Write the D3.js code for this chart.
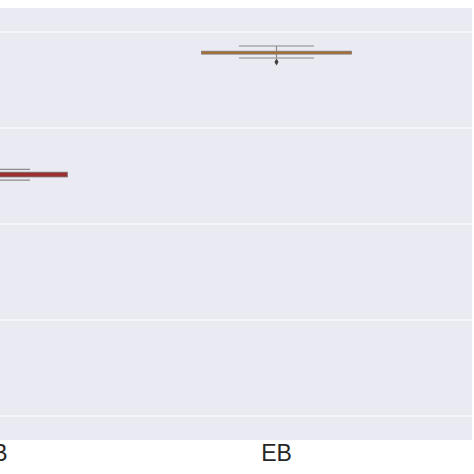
<!DOCTYPE html>
<html><head><meta charset="utf-8">
<script src="https://cdn.jsdelivr.net/npm/d3@7"></script>
<style>html,body{margin:0;padding:0;background:#fff;overflow:hidden}</style>
</head><body>
<svg id="c" width="474" height="474"></svg>
<script>
const categories = ["B", "EB"];
const whiskerLow = [2.458, 3.729];
const q1 = [2.49, 3.77];
const median = [2.51, 3.785];
const q3 = [2.54, 3.80];
const whiskerHigh = [2.57, 3.854];
const outliers = [[], [3.6875]];
const colors = ["#9b2f30", "#a86d2f"];
const yTicks = [0, 1, 2, 3, 4];

(function () {
const svg = d3.select("#c");
const pLeft = 0, pRight = 472, pTop = 8, pBottom = 440;

const x = d3.scalePoint().domain(categories).range([-7.5, 276.5]);
const y = d3.scaleLinear().domain([-0.25, 4.25]).range([pBottom, pTop]);
const boxW = 150;

svg.append("rect").attr("x", pLeft).attr("y", pTop).attr("width", pRight - pLeft).attr("height", pBottom - pTop).attr("fill", "#eaeaf2");

svg.append("g").selectAll("line").data(yTicks).join("line")
  .attr("x1", pLeft).attr("x2", pRight)
  .attr("y1", d => y(d)).attr("y2", d => y(d))
  .attr("stroke", "#fff").attr("stroke-width", 1);

const g = svg.append("g");
categories.forEach((c, i) => {
  const cx = x(c);
  const wc = "#8a8a8a";
  g.append("line").attr("x1", cx).attr("x2", cx).attr("y1", y(whiskerHigh[i])).attr("y2", y(q3[i])).attr("stroke", wc).attr("stroke-width", 1.2);
  g.append("line").attr("x1", cx).attr("x2", cx).attr("y1", y(q1[i])).attr("y2", y(whiskerLow[i])).attr("stroke", wc).attr("stroke-width", 1.2);
  g.append("line").attr("x1", cx - boxW / 4).attr("x2", cx + boxW / 4).attr("y1", y(whiskerHigh[i])).attr("y2", y(whiskerHigh[i])).attr("stroke", wc).attr("stroke-width", 1.2);
  g.append("line").attr("x1", cx - boxW / 4).attr("x2", cx + boxW / 4).attr("y1", y(whiskerLow[i])).attr("y2", y(whiskerLow[i])).attr("stroke", wc).attr("stroke-width", 1.2);
  g.append("rect").attr("x", cx - boxW / 2).attr("width", boxW)
    .attr("y", y(q3[i])).attr("height", Math.max(1, y(q1[i]) - y(q3[i])))
    .attr("fill", colors[i]).attr("stroke", "#7a7a7a").attr("stroke-width", 0.8);
  outliers[i].forEach(v => {
    g.append("path").attr("d", d3.symbol(d3.symbolDiamond, 14)())
      .attr("transform", `translate(${cx},${y(v)})`).attr("fill", "#3d3d3d");
  });
});

svg.append("g").selectAll("text").data(categories).join("text")
  .attr("x", (d, i) => x(d) + (i === 0 ? 7.5 : 0)).attr("y", 461)
  .attr("text-anchor", "middle")
  .attr("font-family", "'Liberation Sans', Arial, sans-serif")
  .attr("font-size", 23).attr("fill", "#262626")
  .text(d => d);
})();
</script>
</body></html>
